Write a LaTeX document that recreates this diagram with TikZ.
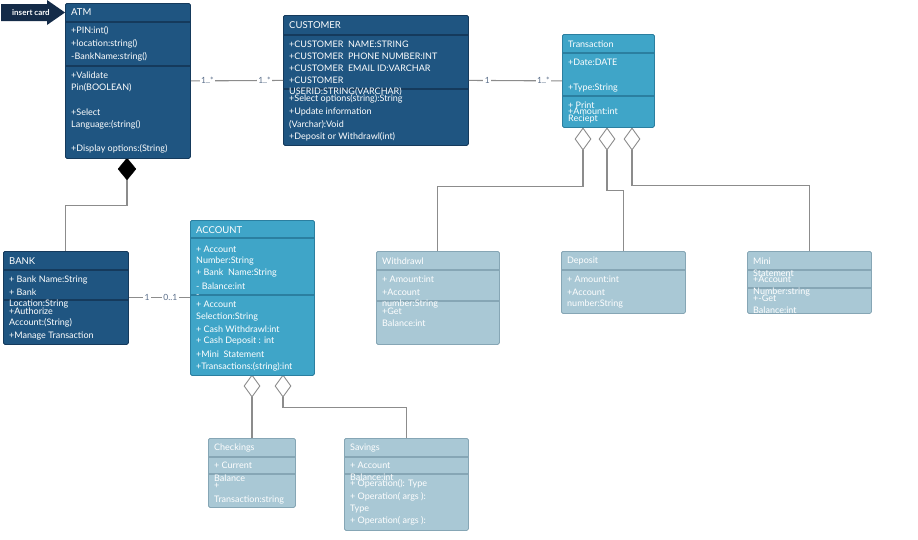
\documentclass[tikz,border=0pt]{standalone}
\usepackage{fontspec}
\setmainfont{Lato}
\usetikzlibrary{shapes.geometric}
\definecolor{dark}{HTML}{1F5581}
\definecolor{darkline}{HTML}{153A5C}
\definecolor{mid}{HTML}{3FA5C8}
\definecolor{midline}{HTML}{2B7FA0}
\definecolor{pale}{HTML}{A9C8D5}
\definecolor{paleline}{HTML}{86A6B5}
\definecolor{arrowc}{HTML}{142B48}
\definecolor{conn}{HTML}{8C8C8C}
\definecolor{mult}{HTML}{5A6E8A}
\begin{document}
\begin{tikzpicture}[x=1pt,y=-1pt,
  dkbox/.style={draw=darkline,fill=dark,line width=0.8pt,rounded corners=1.5pt,inner sep=0,anchor=north west},
  mdbox/.style={draw=midline,fill=mid,line width=0.8pt,rounded corners=1.5pt,inner sep=0,anchor=north west},
  plbox/.style={draw=paleline,fill=pale,line width=0.8pt,rounded corners=1.5pt,inner sep=0,anchor=north west},
  dksep/.style={draw=darkline,line width=1.2pt},
  mdsep/.style={draw=midline,line width=1.2pt},
  plsep/.style={draw=paleline,line width=1.2pt},
  tx/.style={anchor=west,text=white,inner sep=0,font=\fontsize{9}{10}\selectfont},
  hd/.style={anchor=west,text=white,inner sep=0,font=\fontsize{9.5}{10}\selectfont},
  conn/.style={draw=conn,line width=1.1pt},
  mlab/.style={fill=white,text=mult,inner sep=1.5pt,font=\fontsize{8.5}{9}\selectfont},
  fdia/.style={diamond,draw=black,fill=black,minimum width=18pt,minimum height=22pt,inner sep=0},
  hdia/.style={diamond,draw=conn,fill=white,line width=0.9pt,minimum width=16pt,minimum height=22pt,inner sep=0}
]
\useasboundingbox (0,0) rectangle (918,539);

% insert card arrow
\fill[arrowc] (1,4) -- (47,4) -- (47,0) -- (65,12.5) -- (47,25) -- (47,21) -- (1,21) -- cycle;
\node[tx,font=\fontsize{8}{9}\bfseries] (ins) at (12,12.5) {insert card};

% ---- diamonds
\node[fdia] (d0) at (127,169) {};
\node[hdia] (t1) at (583,139) {};
\node[hdia] (t2) at (607,139) {};
\node[hdia] (t3) at (632,139) {};
\node[hdia] (a1) at (252,386) {};
\node[hdia] (a2) at (283,386) {};

% ATM box
\node[dkbox,minimum width=125pt,minimum height=155pt] (atm) at (65,3) {};
\draw[dksep] (65,22) -- (190,22);
\draw[dksep] (65,66) -- (190,66);
\node[hd] (atmh) at (71,12.5) {ATM};
\node[tx] (atm1) at (71,31) {+PIN:int()};
\node[tx] (atm2) at (71,44) {+location:string()};
\node[tx] (atm3) at (71,57) {-BankName:string()};
\node[tx] (atm4) at (71,75) {+Validate};
\node[tx] (atm5) at (71,88) {Pin(BOOLEAN)};
\node[tx] (atm6) at (71,112) {+Select};
\node[tx] (atm7) at (71,125) {Language:(string()};
\node[tx] (atm8) at (71,149) {+Display options:(String)};

% CUSTOMER box
\node[dkbox,minimum width=185pt,minimum height=130pt] (cust) at (283,15) {};
\draw[dksep] (283,35) -- (468,35);
\draw[dksep] (283,89) -- (468,89);
\node[hd] (custh) at (289,25) {CUSTOMER};
\node[tx] (c1) at (289,44) {+CUSTOMER\ \ NAME:STRING};
\node[tx] (c2) at (289,56) {+CUSTOMER\ \ PHONE NUMBER:INT};
\node[tx] (c3) at (289,68) {+CUSTOMER\ \ EMAIL ID:VARCHAR};
\node[tx] (c4) at (289,80) {+CUSTOMER};
\node[tx] (c5) at (289,92) {USERID:STRING(VARCHAR)};
\node[tx] (c6) at (289,99) {+Select options(string):String};
\node[tx] (c7) at (289,112) {+Update information};
\node[tx] (c8) at (289,125) {(Varchar):Void};
\node[tx] (c9) at (289,137) {+Deposit or Withdrawl(int)};

% Transaction box
\node[mdbox,minimum width=92pt,minimum height=93pt] (trans) at (562,34) {};
\draw[mdsep] (562,53) -- (654,53);
\draw[mdsep] (562,96) -- (654,96);
\node[tx] (trh) at (568,44) {Transaction};
\node[tx] (tr1) at (568,62) {+Date:DATE};
\node[tx] (tr2) at (568,88) {+Type:String};
\node[tx] (tr3) at (568,105) {+ Print};
\node[tx] (tr4) at (568,111) {+Amount:int};
\node[tx] (tr5) at (568,119) {Reciept};

% BANK box
\node[dkbox,minimum width=125pt,minimum height=93pt] (bank) at (3,251) {};
\draw[dksep] (3,270) -- (128,270);
\draw[dksep] (3,300) -- (128,300);
\node[hd] (bankh) at (9,261) {BANK};
\node[tx] (b1) at (9,280) {+ Bank Name:String};
\node[tx] (b2) at (9,292) {+ Bank};
\node[tx] (b3) at (9,304) {Location:String};
\node[tx] (b4) at (9,311) {+Authorize};
\node[tx] (b5) at (9,323) {Account:(String)};
\node[tx] (b6) at (9,336) {+Manage Transaction};

% ACCOUNT box
\node[mdbox,minimum width=124pt,minimum height=155pt] (acc) at (190,220) {};
\draw[mdsep] (190,238) -- (314,238);
\draw[mdsep] (190,295) -- (314,295);
\node[hd] (acch) at (196,230) {ACCOUNT};
\node[tx] (ac1) at (196,249) {+ Account};
\node[tx] (ac2) at (196,261) {Number:String};
\node[tx] (ac3) at (196,273) {+ Bank\ \ Name:String};
\node[tx] (ac4) at (196,286) {- Balance:int};
\node[tx] (ac5) at (196,296) {-};
\node[tx] (ac6) at (196,304) {+ Account};
\node[tx] (ac7) at (196,317) {Selection:String};
\node[tx] (ac8) at (196,329) {+ Cash Withdrawl:int};
\node[tx] (ac9) at (196,341) {+ Cash Deposit : int};
\node[tx] (ac10) at (196,354) {+Mini\ \ Statement};
\node[tx] (ac11) at (196,367) {+Transactions:(string):int};

% Withdrawl box
\node[plbox,minimum width=123pt,minimum height=93pt] (wd) at (376,251) {};
\draw[plsep] (376,270) -- (499,270);
\draw[plsep] (376,301) -- (499,301);
\node[tx] (wdh) at (382,261) {Withdrawl};
\node[tx] (w1) at (382,279) {+ Amount:int};
\node[tx] (w2) at (382,292) {+Account};
\node[tx] (w3) at (382,304) {number:String};
\node[tx] (w4) at (382,311) {+Get};
\node[tx] (w5) at (382,323) {Balance:int};

% Deposit box
\node[plbox,minimum width=124pt,minimum height=62pt] (dep) at (561,251) {};
\draw[plsep] (561,270) -- (685,270);
\node[tx] (deph) at (567,261) {Deposit};
\node[tx] (de1) at (567,279) {+ Amount:int};
\node[tx] (de2) at (567,292) {+Account};
\node[tx] (de3) at (567,304) {number:String};

% Mini box
\node[plbox,minimum width=124pt,minimum height=62pt] (mini) at (747,251) {};
\draw[plsep] (747,270) -- (871,270);
\draw[plsep] (747,288) -- (871,288);
\node[tx] (minih) at (753,261) {Mini};
\node[tx] (m1) at (753,273) {Statement};
\node[tx] (m2) at (753,279) {+Account};
\node[tx] (m3) at (753,292) {Number:string};
\node[tx] (m4) at (753,298) {+-Get};
\node[tx] (m5) at (753,310) {Balance:int};

% Checkings box
\node[plbox,minimum width=87pt,minimum height=69pt] (chk) at (208,438) {};
\draw[plsep] (208,457) -- (295,457);
\draw[plsep] (208,474) -- (295,474);
\node[tx] (chkh) at (214,448) {Checkings};
\node[tx] (ck1) at (214,465) {+ Current};
\node[tx] (ck2) at (214,478) {Balance};
\node[tx] (ck3) at (214,486) {+};
\node[tx] (ck4) at (214,500) {Transaction:string};

% Savings box
\node[plbox,minimum width=124pt,minimum height=92pt] (sav) at (344,438) {};
\draw[plsep] (344,457) -- (468,457);
\draw[plsep] (344,474) -- (468,474);
\node[tx] (savh) at (350,448) {Savings};
\node[tx] (s1) at (350,465) {+ Account};
\node[tx] (s2) at (350,477) {Balance:int};
\node[tx] (s3) at (350,484) {+ Operation(): Type};
\node[tx] (s4) at (350,497) {+ Operation( args ):};
\node[tx] (s5) at (350,509) {Type};
\node[tx] (s6) at (350,521) {+ Operation( args ):};

% associations
\draw[conn] (atm.east) -- (cust.west)
  node[mlab,pos=0.18] {1..*} node[mlab,pos=0.8] {1..*};
\draw[conn] (cust.east) -- (trans.west)
  node[mlab,pos=0.2] {1} node[mlab,pos=0.8] {1..*};
\draw[conn] (bank.east) -- (acc.west)
  node[mlab,pos=0.3] {1} node[mlab,pos=0.68] {0..1};

% aggregation / composition
\draw[conn] (d0.south) -- ++(0,25) -| (bank.north);
\draw[conn] (t1.south) -- ++(0,36) -| (wd.north);
\draw[conn] (t2.south) -- ++(0,40) -| (dep.north);
\draw[conn] (t3.south) -- ++(0,35) -| (mini.north);
\draw[conn] (a1.south) -- (a1.south |- chk.north);
\draw[conn] (a2.south) -- ++(0,10) -| (sav.north);
\end{tikzpicture}
\end{document}
